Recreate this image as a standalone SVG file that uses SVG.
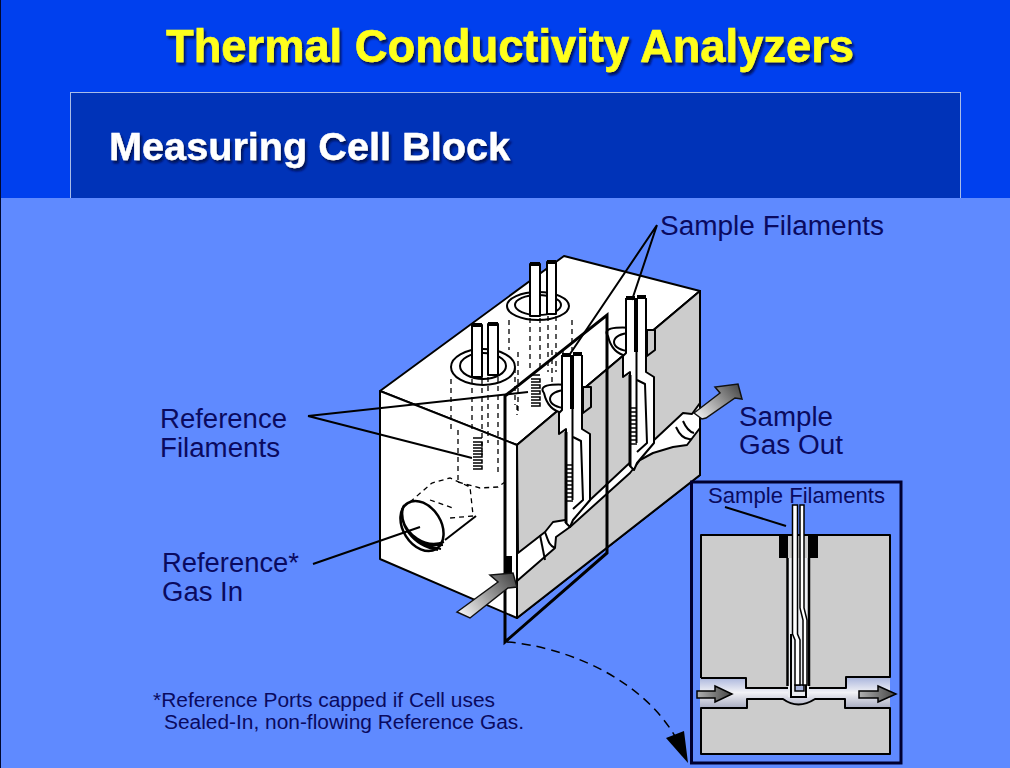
<svg xmlns="http://www.w3.org/2000/svg" width="1010" height="768" viewBox="0 0 1010 768">
<style>
.ln{fill:none;stroke:#000;stroke-width:2;stroke-linejoin:round}
.w{fill:#fff;stroke:#000;stroke-width:2;stroke-linejoin:round}
.g{fill:#ccc;stroke:#000;stroke-width:2;stroke-linejoin:round}
.d{fill:none;stroke:#000;stroke-width:1.3;stroke-dasharray:5 4}
.t{font-family:"Liberation Sans",Arial,sans-serif;font-size:27px;fill:#0a0a60}
.s{font-family:"Liberation Sans",Arial,sans-serif;font-size:20px;fill:#0a0a60}
.lead{fill:none;stroke:#000;stroke-width:2}
.th{fill:none;stroke:#000;stroke-width:3}
.nv{fill:none;stroke:#000030;stroke-width:3}
</style>
<defs>
<filter id="sh" x="-5%" y="-20%" width="110%" height="140%"><feDropShadow dx="2" dy="3" stdDeviation="1" flood-color="#001050" flood-opacity=".9"/></filter>
<linearGradient id="aOut" gradientUnits="userSpaceOnUse" x1="698" y1="420" x2="738" y2="385"><stop offset="0" stop-color="#f4f4f4"/><stop offset="1" stop-color="#4a4a4a"/></linearGradient>
<linearGradient id="aIn" gradientUnits="userSpaceOnUse" x1="462" y1="616" x2="512" y2="574"><stop offset="0" stop-color="#f4f4f4"/><stop offset="1" stop-color="#4a4a4a"/></linearGradient>
<linearGradient id="ch" x1="0" y1="0" x2="0" y2="1"><stop offset="0" stop-color="#a8b4dc"/><stop offset=".5" stop-color="#f2f2f6"/><stop offset="1" stop-color="#a8acc0"/></linearGradient>
<linearGradient id="ga" x1="0" y1="0" x2="1" y2="0"><stop offset="0" stop-color="#b0b0b0"/><stop offset="1" stop-color="#444"/></linearGradient>
<g id="stem">
<path fill="#fff" d="M626 298H646V372L654 377V443L637 463L634 470L630 466V372L623 377V356L626 353Z"/>
<path class="g" d="M647 330H655V350L647 356Z"/>
<path class="ln" d="M626 298V353L623 356V377L630 372V466L634 470L637 463L654 443V377L646 372V298"/>
<path class="ln" d="M637 380L645 384L647 443L637 452"/>
<path d="M626 298H635M637 297H646" stroke="#000" stroke-width="4"/>
<path d="M636 298V352" stroke="#000" stroke-width="4"/>
<path d="M636.500 352V443" stroke="#000" stroke-width="2"/>
<path d="M630 375V466" stroke="#000" stroke-width="3"/>
<path d="M630 408h7M630 412h7M630 416h7M630 420h7M630 424h7M630 428h7M630 432h7M630 436h7M630 440h7M630 444h7" stroke="#000" stroke-width="1.600"/>
</g>
<path id="coil" d="M0 0h9M0 4h9v3h-9M0 10h9v3h-9M0 16h9v3h-9M0 22h9v3h-9M0 28h9v3h-9" fill="none" stroke="#000" stroke-width="1.500"/>
</defs>
<rect width="1010" height="198" fill="#0040ee"/>
<rect x="0" width="1" height="768" fill="#000830"/>
<rect x="70.500" y="92.500" width="890" height="106" fill="#0033b8" stroke="#a8bce8"/>
<rect y="198" x="1" width="1009" height="570" fill="#5f8aff"/>
<text x="510" y="62" text-anchor="middle" font-family="Liberation Sans,Arial,sans-serif" font-weight="700" font-size="45.300" fill="#ffff1a" stroke="#ffff1a" stroke-width=".6" filter="url(#sh)">Thermal Conductivity Analyzers</text>
<text x="109" y="160" font-family="Liberation Sans,Arial,sans-serif" font-weight="700" font-size="38" fill="#fff" stroke="#fff" stroke-width=".4" textLength="401" lengthAdjust="spacingAndGlyphs" filter="url(#sh)">Measuring Cell Block</text>

<g id="cell-block">
<path class="w" d="M380 391L564 256L700 291L517 445Z"/>
<path class="w" d="M380 391L517 445V618L380 559Z"/>
<path class="w" d="M517 445L700 291V475L517 618Z"/>
<path class="g" d="M517 445L700 291V403L692 414L683 413L590 500L572 520L565 520L553 522L545 532L518 553Z"/>
<path class="g" d="M517 581L555 548L556 537L570 527L630 473L640 460L653 453L673 447L687 445L700 428V475L517 618Z"/>
<path class="ln" d="M683 421C686 428 690 432 694 433M676 427C680 436 686 440 692 439M545 532C548 540 549 546 555 548" stroke-width="1.500"/>
<path class="ln" d="M540 535L545 560" stroke-width="1.400"/>
</g>

<g id="ports">
<ellipse cx="483" cy="367" rx="32" ry="18" class="w"/><ellipse cx="483" cy="366" rx="23" ry="13" class="w"/>
<ellipse cx="538" cy="306" rx="31" ry="14" class="w"/><ellipse cx="538" cy="305" rx="23" ry="10" class="w"/>
<path class="w" d="M472 377V325H482V377ZM488 375V324H498V375ZM530 316V264H540V316ZM547 314V262H556V314Z"/>
<path d="M472 325h10M488 324h10M530 264h10M547 262h9" stroke="#000" stroke-width="4"/>
</g>

<g id="hidden-bores">
<path class="d" d="M451 379V430M458 430V482M472 379V430M482 379V455M488 377V443M498 377V473M515 368V405M517 405V415M509 320V350M518 352V412M530 318V372M540 318V372M548 316V372M556 316V372M572 320V350M552 350V395M563 350V395"/>
<path class="d" d="M458 482L480 488L498 487L505 482M410 502L432 483L450 478L470 487L473 515M430 500L453 508M473 516L450 518"/>
<use href="#coil" x="473" y="438"/><use href="#coil" x="531" y="375"/>
</g>

<g id="gas-port">
<path class="ln" d="M445 540L476 516"/>
<ellipse cx="422" cy="526" rx="19" ry="27" transform="rotate(-32 422 526)" fill="#fff" stroke="#000" stroke-width="2.500"/>
<path class="ln" stroke-width="1.500" d="M404 505C396 522 412 546 438 550M403 508C399 526 416 546 441 549M401 514C403 530 420 548 443 545M402 518C407 534 424 549 444 542"/>
</g>

<g id="stems">
<path class="w" d="M608 336C600 326 625 326 646 330V354L627 356C615 354 610 345 608 336Z"/>
<ellipse cx="630" cy="342" rx="16" ry="9" class="w"/>
<path class="w" d="M544 393C536 383 561 383 582 387V411L563 413C551 411 546 402 544 393Z"/>
<ellipse cx="566" cy="399" rx="16" ry="9" class="w"/>
<use href="#stem"/><use href="#stem" transform="translate(-64 57)"/>
</g>

<g id="section-plane">
<path class="th" d="M505 396L607 315V553L505 642Z"/>
<rect x="505" y="556" width="7" height="18" fill="#000"/>
</g>

<g id="connectors">
<path class="lead" d="M657 225L570 354M657 225L632 300M308 416L528 392M308 416L472 458M313 564L420 527"/>
<path fill="url(#aOut)" stroke="#111" stroke-width="1.500" d="M694 413L720 393L715 387L738 384L742 399L735 398L706 418L702 419Z"/>
<path fill="url(#aIn)" stroke="#111" stroke-width="1.500" d="M457 612L498 582L490 575L513 573L517 587L508 588L470 618Z"/>
<path d="M507 642C560 646 640 675 676 738" fill="none" stroke="#000" stroke-width="1.500" stroke-dasharray="9 6"/>
<path d="M666 738L684 731L688 763Z" fill="#000"/>
</g>

<g id="inset">
<rect x="691.500" y="482" width="209.500" height="281" class="nv"/>
<rect x="701" y="535" width="189" height="219" fill="#ccc"/>
<path fill="url(#ch)" d="M700 678H746V688H846V677H890V708H846V699H815Q798 710 783 699H747V708H700Z"/>
<path class="ln" stroke="#000030" d="M701 678V535H890V677H846V688H808M790 688H746V678H701M701 708H747V699H783Q798 710 815 699H845V708H890V754H701Z"/>
<rect x="788" y="558" width="21" height="139" fill="#eceef2"/>
<path d="M787.500 558V686M809 558V686" stroke="#000" stroke-width="2.500"/>
<path d="M791 634V697H806V620" fill="none" stroke="#000" stroke-width="2"/>
<path d="M795 691V685H804V691Z" fill="#a8b4dc" stroke="#000" stroke-width="1.500"/>
<path d="M792.500 505H797.500V634L800 640V685H795V640L792.500 634Z" fill="#fff" stroke="#000" stroke-width="1.500"/>
<path d="M800 505H804V608L807 620V685H803V620L800 608Z" fill="#fff" stroke="#000" stroke-width="1.500"/>
<rect x="779" y="535" width="9" height="23" fill="#000"/><rect x="808" y="535" width="10" height="23" fill="#000"/>
<path d="M697 691H715V686L732 694L715 702V698H697Z" fill="url(#ga)" stroke="#000" stroke-width="1.500"/>
<path d="M859 691H878V686L896 694L878 702V698H859Z" fill="url(#ga)" stroke="#000" stroke-width="1.500"/>
<path d="M725 507L786 526" class="lead" stroke="#000040"/>
<text x="708" y="503" class="t" style="font-size:22px" textLength="177" lengthAdjust="spacingAndGlyphs">Sample Filaments</text>
</g>

<g id="labels">
<text x="660" y="235" class="t" textLength="224" lengthAdjust="spacingAndGlyphs">Sample Filaments</text>
<text x="160" y="428" class="t" textLength="127" lengthAdjust="spacingAndGlyphs">Reference</text><text x="160" y="457" class="t" textLength="120" lengthAdjust="spacingAndGlyphs">Filaments</text>
<text x="162" y="572" class="t" textLength="137" lengthAdjust="spacingAndGlyphs">Reference*</text><text x="162" y="601" class="t" textLength="81" lengthAdjust="spacingAndGlyphs">Gas In</text>
<text x="739" y="426" class="t" textLength="94" lengthAdjust="spacingAndGlyphs">Sample</text><text x="739" y="454" class="t" textLength="104" lengthAdjust="spacingAndGlyphs">Gas Out</text>
<text x="153" y="707" class="s" textLength="342" lengthAdjust="spacingAndGlyphs">*Reference Ports capped if Cell uses</text>
<text x="164" y="729" class="s" textLength="360" lengthAdjust="spacingAndGlyphs">Sealed-In, non-flowing Reference Gas.</text>
</g>
</svg>
